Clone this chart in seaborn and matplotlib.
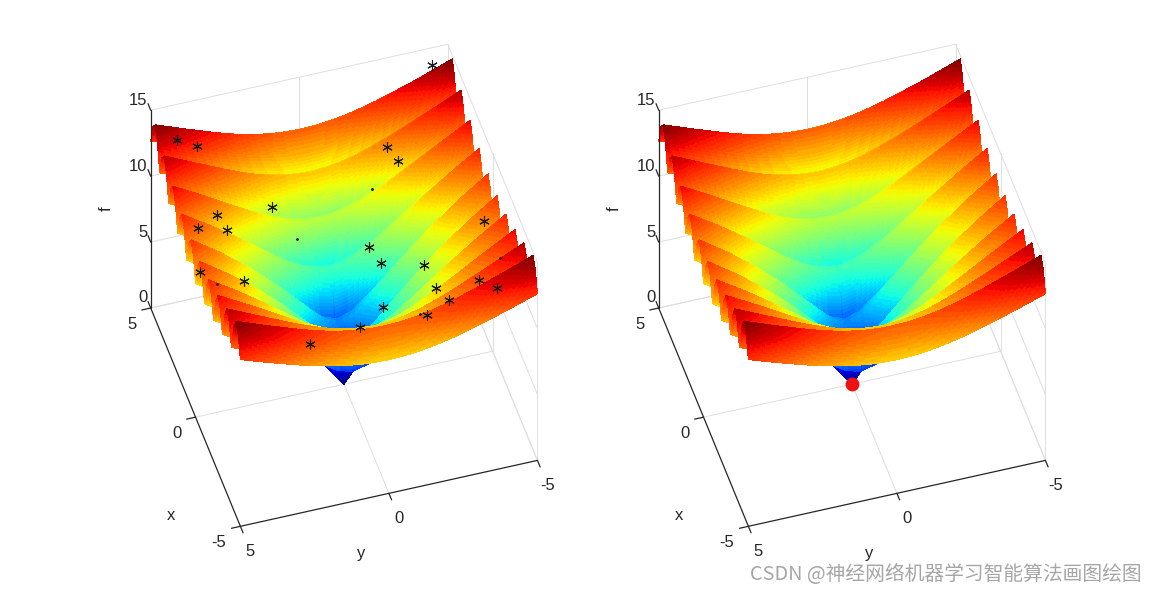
import numpy as np
import matplotlib
matplotlib.use("Agg")
import matplotlib.pyplot as plt
from mpl_toolkits.mplot3d import proj3d
import seaborn as sns

W, H = 1155, 593

# surface heights read for the x >= 0, y >= 0 quarter (the picture is symmetric)
x_knots = [0, .25, .5, .75, 1, 1.25, 1.5, 1.75, 2, 2.25, 2.5, 2.75, 3, 3.25, 3.5, 3.75, 4, 4.25, 4.5, 4.75, 5]
y_knots = [0, .5, 1, 1.5, 2, 2.5, 3, 4, 5]
f_quarter = [
    [0.00, 1.37, 2.64, 3.82, 4.93, 5.96, 6.92, 8.64, 10.14],
    [2.41, 3.23, 4.43, 5.59, 6.68, 7.70, 8.65, 10.37, 11.87],
    [3.81, 4.34, 5.37, 6.45, 7.50, 8.50, 9.44, 11.14, 12.62],
    [3.73, 4.11, 4.96, 5.93, 6.93, 7.89, 8.80, 10.47, 11.93],
    [2.64, 2.92, 3.62, 4.49, 5.41, 6.33, 7.20, 8.83, 10.27],
    [4.96, 5.18, 5.77, 6.54, 7.38, 8.24, 9.08, 10.66, 12.07],
    [6.27, 6.45, 6.94, 7.63, 8.40, 9.20, 10.00, 11.51, 12.89],
    [6.09, 6.25, 6.68, 7.27, 7.98, 8.73, 9.48, 10.93, 12.26],
    [4.93, 5.05, 5.41, 5.96, 6.59, 7.28, 7.98, 9.37, 10.66],
    [7.16, 7.27, 7.60, 8.07, 8.65, 9.29, 9.94, 11.27, 12.51],
    [8.41, 8.50, 8.78, 9.20, 9.73, 10.32, 10.93, 12.18, 13.37],
    [8.16, 8.24, 8.49, 8.87, 9.35, 9.89, 10.47, 11.64, 12.78],
    [6.92, 6.99, 7.20, 7.55, 7.98, 8.48, 9.02, 10.14, 11.23],
    [9.08, 9.15, 9.35, 9.66, 10.05, 10.52, 11.03, 12.07, 13.11],
    [10.26, 10.32, 10.49, 10.77, 11.14, 11.56, 12.03, 13.01, 14.01],
    [9.94, 10.00, 10.16, 10.42, 10.75, 11.15, 11.57, 12.51, 13.45],
    [8.64, 8.69, 8.83, 9.06, 9.37, 9.73, 10.14, 11.01, 11.91],
    [10.75, 10.79, 10.93, 11.15, 11.42, 11.76, 12.13, 12.95, 13.81],
    [11.87, 11.91, 12.03, 12.22, 12.48, 12.79, 13.14, 13.91, 14.72],
    [11.50, 11.54, 11.65, 11.83, 12.07, 12.35, 12.68, 13.39, 14.17],
    [10.14, 10.17, 10.27, 10.44, 10.66, 10.92, 11.23, 11.91, 12.64],
]

# the population drawn as stars on the left panel
star_x = [4.85, 4.62, 4.46, 3.48, 3.08, 3.15, 2.22, 1.81, 2.01, 2.19, 1.41, 0.50, 0.27, -0.46, -0.55, -1.26, -2.98, 0.65, -3.41, 0.03, -4.64, -3.25, -4.58]
star_y = [-4.41, 4.24, 3.61, -2.51, -2.73, 1.48, 3.62, 4.38, 3.34, -1.51, -1.68, 4.71, 3.30, -2.56, -4.53, -2.73, -2.64, -1.52, -1.77, -0.55, 2.56, -3.57, -3.78]
star_f = [14.0, 13.0, 12.5, 11.0, 10.5, 9.0, 11.0, 11.0, 10.0, 6.0, 6.0, 10.0, 9.0, 8.5, 11.0, 8.0, 10.0, 4.0, 10.0, 4.0, 12.0, 11.5, 13.0]
# stars almost buried in the surface, only a speck shows
buried_x = [2.38, 2.40, -0.16, -2.80, -3.30]
buried_y = [-1.67, 0.86, 4.34, -4.42, -1.56]
buried_f = [10.0, 7.5, 10.0, 12.0, 10.0]

best_x, best_y, best_f = [0.0], [0.0], [0.0]

x_ticks = [-5, 0, 5]
y_ticks = [-5, 0, 5]
z_ticks = [0, 5, 10, 15]

sns.set_theme(style="white")
plt.rcParams['font.family'] = ['Liberation Sans', 'DejaVu Sans']
# seaborn refuses to hand out jet, so take it from matplotlib
jet = plt.get_cmap('jet', 64)

f_half = np.array(f_quarter)
x_all = np.r_[-np.array(x_knots[:0:-1]), x_knots]
y_all = np.r_[-np.array(y_knots[:0:-1]), y_knots]
f_all = np.vstack([f_half[:0:-1], f_half])
f_all = np.hstack([f_all[:, :0:-1], f_all])

# smooth colours between the table rows, what matlab's shading interp does
x_fine = np.linspace(-5, 5, 401)
y_fine = np.linspace(-5, 5, 241)
f_fine = np.array([np.interp(y_fine, y_all, row) for row in f_all])
f_fine = np.array([np.interp(x_fine, x_all, col) for col in f_fine.T]).T
XX, YY = np.meshgrid(x_fine, y_fine, indexing='ij')


def to_px(ax, x, y, z):
    xs, ys, _ = proj3d.proj_transform(x, y, z, ax.get_proj())
    u, v = ax.transData.transform((xs, ys))
    return u, H - v


def place(ax, corner_a, corner_c):
    # size and move the square axes so two box corners land where they should
    side, left, top = 600.0, 100.0, 0.0
    for i in range(3):
        ax.set_position([left / W, 1 - (top + side) / H, side / W, side / H])
        ua, va = to_px(ax, 5, 5, 0)
        uc, vc = to_px(ax, -5, -5, 0)
        scale = np.hypot(corner_c[0] - corner_a[0], corner_c[1] - corner_a[1]) / np.hypot(uc - ua, vc - va)
        cx, cy = left + side / 2, top + side / 2
        side = side * scale
        nu, nv = cx + (ua - cx) * scale, cy + (va - cy) * scale
        left = cx - side / 2 + corner_a[0] - nu
        top = cy - side / 2 + corner_a[1] - nv
    ax.set_position([left / W, 1 - (top + side) / H, side / W, side / H])


def label(ax, pos, dx, dy, text, **kw):
    u, v = to_px(ax, *pos)
    fig.text((u + dx) / W, 1 - (v + dy) / H, text, color='#262626', fontsize=12,
             va='center', **kw)


def panel(offset):
    ax = fig.add_subplot(projection='3d')
    ax.set_proj_type('ortho')
    ax.view_init(elev=47.3, azim=163.2)
    ax.set_box_aspect((1, 1, 0.94))
    ax.set_xlim(-5, 5)
    ax.set_ylim(-5, 5)
    ax.set_zlim(0, 15)
    ax.set_axis_off()
    ax.computed_zorder = False
    place(ax, (150.7 + offset, 308), (537 + offset, 461.5))

    grid = dict(color='#dedede', lw=0.7, zorder=1)
    # floor
    ax.plot([0, 0], [-5, 5], [0, 0], **grid)
    ax.plot([-5, 5], [0, 0], [0, 0], **grid)
    ax.plot([5, 5], [-5, 5], [0, 0], **grid)
    ax.plot([-5, 5], [-5, -5], [0, 0], **grid)
    # back walls
    for z in z_ticks:
        ax.plot([5, 5], [-5, 5], [z, z], **grid)
        ax.plot([-5, 5], [-5, -5], [z, z], **grid)
    ax.plot([5, 5], [0, 0], [0, 15], **grid)
    ax.plot([5, 5], [-5, -5], [0, 15], **grid)
    ax.plot([0, 0], [-5, -5], [0, 15], **grid)
    ax.plot([-5, -5], [-5, -5], [0, 15], **grid)

    surf = ax.plot_surface(XX, YY, f_fine, cmap=jet, vmin=0, vmax=14.8, rstride=1, cstride=1,
                           linewidth=0, antialiased=False, shade=False, zorder=2)
    surf.set_clip_on(False)

    # axis lines and ticks
    axis = dict(color='#262626', lw=0.9, zorder=4)
    ax.plot([-5, 5], [5, 5], [0, 0], **axis)
    ax.plot([-5, -5], [-5, 5], [0, 0], **axis)
    ax.plot([5, 5], [5, 5], [0, 15], **axis)
    for v in x_ticks:
        ax.plot([v, v], [5, 5.3], [0, 0], **axis)
        label(ax, (v, 5, 0), -14, 16.5, str(v), ha='right')
    for v in y_ticks:
        ax.plot([-5, -5.3], [v, v], [0, 0], **axis)
        label(ax, (-5, v, 0), 10, 25.5, str(v), ha='center')
    for v in z_ticks:
        ax.plot([5, 5.3], [5, 5], [v, v], **axis)
        label(ax, (5, 5, v), -3, -10, str(v), ha='right')
    label(ax, (-5, 5, 0), -69, -11, 'x', ha='center')
    label(ax, (-5, 0, 0), -28, 60, 'y', ha='center')
    label(ax, (5, 5, 7.5), -44, 0, 'f', ha='center', rotation=90)
    return ax


fig = plt.figure(figsize=(W / 100, H / 100), dpi=100)

ax1 = panel(0)
ax1.plot(star_x, star_y, star_f, ls='none', marker=(6, 2, 0), ms=7.5, mew=0.8, color='k', zorder=5)
ax1.plot(buried_x, buried_y, buried_f, ls='none', marker=(6, 2, 0), ms=1.8, mew=0.6, color='k', zorder=5)

ax2 = panel(508)
ax2.plot(best_x, best_y, best_f, ls='none', marker='o', ms=10, mew=0, color='#ee1111', zorder=5)

fig.text(750 / W, 1 - 574 / H, 'CSDN @神经网络机器学习智能算法画图绘图', color='#a6a6a6', fontsize=14.25,
         family=['Noto Sans CJK SC', 'DejaVu Sans'], va='center')

fig.savefig('out.png', dpi=100)
